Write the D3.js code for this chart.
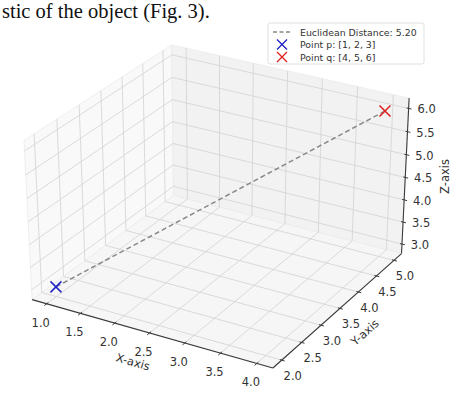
<!DOCTYPE html>
<html>
<head>
<meta charset="utf-8">
<script src="https://cdn.jsdelivr.net/npm/d3@7"></script>
<style>
  body { margin: 0; background: #fff; }
  svg { display: block; font-family: "DejaVu Sans", sans-serif; }
</style>
</head>
<body>
<div id="chart"></div>
<script>
const width = 474;
const height = 397;

// data
const pointP = [1, 2, 3];
const pointQ = [4, 5, 6];
const xTicks = [1.0, 1.5, 2.0, 2.5, 3.0, 3.5, 4.0];
const yTicks = [2.0, 2.5, 3.0, 3.5, 4.0, 4.5, 5.0];
const zTicks = [3.0, 3.5, 4.0, 4.5, 5.0, 5.5, 6.0];
const axisLabels = ["X-axis", "Y-axis", "Z-axis"];
const distance = Math.hypot(pointQ[0] - pointP[0], pointQ[1] - pointP[1], pointQ[2] - pointP[2]);

const svg = d3.select("#chart")
  .append("svg")
  .attr("width", width)
  .attr("height", height);

// cropped caption line from the page above the figure
svg.append("text")
  .attr("x", 2)
  .attr("y", 18)
  .attr("font-family", "Liberation Serif, serif")
  .attr("font-size", 20.5)
  .attr("fill", "#111")
  .text("stic of the object (Fig. 3).");

// limits like matplotlib: 5% margin, then pane padding of range/48
function paneExtent(vals) {
  const [lo, hi] = d3.extent(vals);
  const m = (hi - lo) * 0.05;
  const l0 = lo - m, l1 = hi + m;
  const pad = (l1 - l0) / 48;
  return [l0 - pad, l1 + pad];
}
const xExt = paneExtent([pointP[0], pointQ[0]]);
const yExt = paneExtent([pointP[1], pointQ[1]]);
const zExt = paneExtent([pointP[2], pointQ[2]]);

const x = d3.scaleLinear().domain(xExt).range([-0.5, 0.5]);
const y = d3.scaleLinear().domain(yExt).range([-0.5, 0.5]);
const z = d3.scaleLinear().domain(zExt).range([-0.375, 0.375]);

// camera: azim -60, elev 30, perspective
const azim = -60 * Math.PI / 180;
const elev = 30 * Math.PI / 180;
const eyeDist = 9;
const eye = [Math.cos(elev) * Math.cos(azim), Math.cos(elev) * Math.sin(azim), Math.sin(elev)];
const right = [-Math.sin(azim), Math.cos(azim), 0];
const up = [-Math.sin(elev) * Math.cos(azim), -Math.sin(elev) * Math.sin(azim), Math.cos(elev)];
const dot = (a, b) => a[0] * b[0] + a[1] * b[1] + a[2] * b[2];

const sx = d3.scaleLinear().domain([0, 1]).range([220, 220 + 276]);
const sy = d3.scaleLinear().domain([0, 1]).range([199.2, 199.2 - 242]);

function proj(d) {
  const p = [x(d[0]), y(d[1]), z(d[2])];
  const f = eyeDist / (eyeDist - dot(p, eye));
  return [sx(dot(p, right) * f), sy(dot(p, up) * f)];
}

const line = d3.line().x(d => proj(d)[0]).y(d => proj(d)[1]);

const [x0, x1] = xExt, [y0, y1] = yExt, [z0, z1] = zExt;

// panes
const panes = [
  { pts: [[x0, y0, z0], [x0, y1, z0], [x0, y1, z1], [x0, y0, z1]], fill: "#f9f9f9" },
  { pts: [[x0, y1, z0], [x1, y1, z0], [x1, y1, z1], [x0, y1, z1]], fill: "#f2f2f2" },
  { pts: [[x0, y0, z0], [x1, y0, z0], [x1, y1, z0], [x0, y1, z0]], fill: "#f6f6f6" }
];
svg.append("g").selectAll("path")
  .data(panes)
  .enter()
  .append("path")
  .attr("d", d => line(d.pts) + "Z")
  .attr("fill", d => d.fill)
  .attr("stroke", "#ebebeb")
  .attr("stroke-width", 0.8);

// grid
const grid = [];
xTicks.forEach(t => {
  grid.push([[t, y0, z0], [t, y1, z0]]);
  grid.push([[t, y1, z0], [t, y1, z1]]);
});
yTicks.forEach(t => {
  grid.push([[x1, t, z0], [x0, t, z0]]);
  grid.push([[x0, t, z0], [x0, t, z1]]);
});
zTicks.forEach(t => {
  grid.push([[x0, y0, t], [x0, y1, t]]);
  grid.push([[x0, y1, t], [x1, y1, t]]);
});
svg.append("g").selectAll("path")
  .data(grid)
  .enter()
  .append("path")
  .attr("d", d => line(d))
  .attr("fill", "none")
  .attr("stroke", "#d2d2d2")
  .attr("stroke-width", 0.8);

// axis lines
const axisColor = "#3a3a3a";
const axes = [
  { ends: [[x0, y0, z0], [x1, y0, z0]], ticks: xTicks.map(t => [t, y0, z0]), dir: [0, -1, 0], lab: [-6, 19], title: [-16.5, 29], rot: 16 },
  { ends: [[x1, y0, z0], [x1, y1, z0]], ticks: yTicks.map(t => [x1, t, z0]), dir: [1, 0, 0], lab: [11, 16], title: [25, 24], rot: -42 },
  { ends: [[x1, y1, z0], [x1, y1, z1]], ticks: zTicks.map(t => [x1, y1, t]), dir: [1, 0, 0], lab: [18, 1], title: [40, -1], rot: -90 }
];
const tickVals = [xTicks, yTicks, zTicks];

axes.forEach((ax, i) => {
  const g = svg.append("g");
  g.append("path")
    .attr("d", line(ax.ends))
    .attr("stroke", axisColor)
    .attr("stroke-width", 1.1)
    .attr("fill", "none");

  ax.ticks.forEach((tp, j) => {
    const a = proj(tp);
    const b = proj([tp[0] + ax.dir[0] * 0.1, tp[1] + ax.dir[1] * 0.1, tp[2] + ax.dir[2] * 0.1]);
    const len = Math.hypot(b[0] - a[0], b[1] - a[1]);
    const ux = (b[0] - a[0]) / len, uy = (b[1] - a[1]) / len;
    g.append("line")
      .attr("x1", a[0] - ux * 2).attr("y1", a[1] - uy * 2)
      .attr("x2", a[0] + ux * 3).attr("y2", a[1] + uy * 3)
      .attr("stroke", axisColor)
      .attr("stroke-width", 1);
    g.append("text")
      .attr("x", a[0] + ax.lab[0])
      .attr("y", a[1] + ax.lab[1])
      .attr("text-anchor", "middle")
      .attr("dominant-baseline", "central")
      .attr("font-size", 11.5)
      .attr("fill", "#333")
      .text(d3.format(".1f")(tickVals[i][j]));
  });

  const mid = ax.ticks[3];
  const m = proj(mid);
  g.append("text")
    .attr("transform", `translate(${m[0] + ax.title[0]},${m[1] + ax.title[1]}) rotate(${ax.rot})`)
    .attr("text-anchor", "middle")
    .attr("dominant-baseline", "central")
    .attr("font-size", 11.5)
    .attr("fill", "#333")
    .text(axisLabels[i]);
});

// distance line
svg.append("path")
  .attr("d", line([pointP, pointQ]))
  .attr("fill", "none")
  .attr("stroke", "#888")
  .attr("stroke-width", 1.5)
  .attr("stroke-dasharray", "5,3");

// markers
const points = [
  { pt: pointP, color: "#2020c8", label: `Point p: [${pointP.join(", ")}]` },
  { pt: pointQ, color: "#e02020", label: `Point q: [${pointQ.join(", ")}]` }
];
const xMark = s => `M${-s},${-s}L${s},${s}M${-s},${s}L${s},${-s}`;

svg.append("g").selectAll("path")
  .data(points)
  .enter()
  .append("path")
  .attr("transform", d => `translate(${proj(d.pt)[0]},${proj(d.pt)[1]})`)
  .attr("d", xMark(5.5))
  .attr("stroke", d => d.color)
  .attr("stroke-width", 1.5)
  .attr("fill", "none");

// legend
const legend = svg.append("g").attr("transform", "translate(268,23)");
legend.append("rect")
  .attr("width", 156)
  .attr("height", 41)
  .attr("rx", 2)
  .attr("fill", "#fff")
  .attr("stroke", "#d8d8d8")
  .attr("stroke-width", 0.8);

legend.append("line")
  .attr("x1", 5).attr("x2", 24)
  .attr("y1", 9).attr("y2", 9)
  .attr("stroke", "#888")
  .attr("stroke-width", 1.5)
  .attr("stroke-dasharray", "4,2.5");

const legendItems = [`Euclidean Distance: ${distance.toFixed(2)}`].concat(points.map(d => d.label));
legendItems.forEach((txt, i) => {
  const yy = 9 + i * 12.5;
  if (i > 0) {
    legend.append("path")
      .attr("transform", `translate(14,${yy})`)
      .attr("d", xMark(5))
      .attr("stroke", points[i - 1].color)
      .attr("stroke-width", 1.3)
      .attr("fill", "none");
  }
  legend.append("text")
    .attr("x", 32)
    .attr("y", yy)
    .attr("dominant-baseline", "central")
    .attr("font-size", 9.4)
    .attr("fill", "#333")
    .text(txt);
});
</script>
</body>
</html>
